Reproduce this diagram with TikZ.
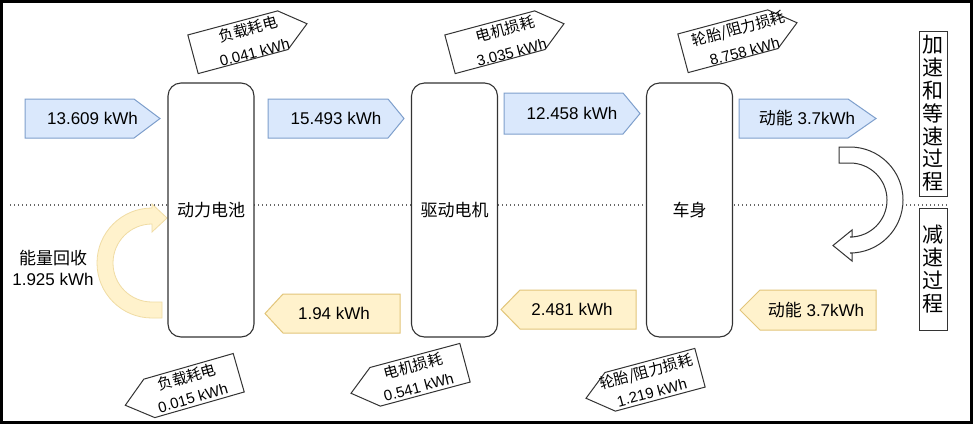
\documentclass[tikz,border=0pt]{standalone}
\usepackage{fontspec}
\setmainfont{Liberation Sans}
\newfontfamily\cjk{Noto Sans CJK SC}
\definecolor{bfill}{HTML}{DAE8FC}
\definecolor{bdraw}{HTML}{7E9FCC}
\definecolor{yfill}{HTML}{FFF2CC}
\definecolor{ydraw}{HTML}{E2C57A}
\definecolor{cdraw}{HTML}{F0DCA4}
\definecolor{bkdraw}{HTML}{333333}
\definecolor{dotcol}{HTML}{666666}
\begin{document}
\begin{tikzpicture}[x=1pt,y=-1pt,
  blueA/.style={fill=bfill,draw=bdraw,line width=1pt,line join=miter},
  yelA/.style={fill=yfill,draw=ydraw,line width=1pt},
  blk/.style={draw=bkdraw,fill=white,rounded corners=13pt,line width=1.1pt,
    minimum width=86pt,minimum height=254pt,inner sep=0pt,font=\cjk\fontsize{17}{20}\selectfont},
  tagbox/.style={draw=bkdraw,fill=white,line width=1pt},
  lbl/.style={font=\fontsize{17}{20}\selectfont,inner sep=0pt},
  tagtxt/.style={font=\fontsize{15}{23.5}\selectfont,align=center,inner sep=0pt},
  tagtxtb/.style={font=\fontsize{15}{21.5}\selectfont,align=center,inner sep=0pt},
  vbox/.style={draw=bkdraw,line width=1pt,fill=white,minimum width=28pt,inner sep=0pt,
    align=center,font=\cjk\fontsize{21}{22.8}\selectfont},
]
\useasboundingbox (0,0) rectangle (973,424);
\fill[white] (0,0) rectangle (973,424);

% energy recovery C arrow
\draw[fill=yfill,draw=cdraw,line width=0.8pt] (162,318) -- (152,318)
  arc[start angle=90,end angle=270,radius=55] -- (152,204) -- (167,218) -- (152,232) -- (152,224)
  arc[start angle=270,end angle=90,radius=39] -- (162,302) -- cycle;
\node[font=\fontsize{17}{21}\selectfont,align=center,inner sep=0pt] (rec) at (53,268) {{\cjk 能量回收}\\1.925 kWh};

% separator
\coordinate (sepL) at (10,205);
\coordinate (sepR) at (947,205);
\draw[dotcol,line width=1.3pt,dash pattern=on 1.3pt off 2.7pt] (sepL) -- (sepR);

% blocks
\node[blk] (bat) at (211,210) {动力电池};
\node[blk] (mot) at (454.5,210) {驱动电机};
\node[blk] (car) at (689.5,210) {车身};

% blue arrows (right)
\draw[blueA] (25,99) -- (134,99) -- (160,118.5) -- (134,138) -- (25,138) -- cycle;
\node[lbl] (b1) at (92.5,118.5) {13.609 kWh};
\draw[blueA] (268,99) -- (388,99) -- (404,118.5) -- (388,138) -- (268,138) -- cycle;
\node[lbl] (b2) at (336,118.5) {15.493 kWh};
\draw[blueA] (504,93) -- (623,93) -- (640,113.5) -- (623,134) -- (504,134) -- cycle;
\node[lbl] (b3) at (572,113.5) {12.458 kWh};
\draw[blueA] (739,99) -- (848,99) -- (876,118.5) -- (848,138) -- (739,138) -- cycle;
\node[lbl] (b4) at (807,118.5) {{\cjk 动能} 3.7kWh};

% yellow arrows (left)
\draw[yelA] (265,313.5) -- (283,294) -- (400,294) -- (400,333) -- (283,333) -- cycle;
\node[lbl] (y1) at (334,313.5) {1.94 kWh};
\draw[yelA] (501,309.5) -- (520,290) -- (636,290) -- (636,329) -- (520,329) -- cycle;
\node[lbl] (y2) at (572,309.5) {2.481 kWh};
\draw[yelA] (740,310) -- (760,290) -- (876,290) -- (876,330) -- (760,330) -- cycle;
\node[lbl] (y3) at (816,310) {{\cjk 动能} 3.7kWh};

% white U-turn arrow
\draw[fill=white,draw=bkdraw,line width=1pt] (839,147) -- (850,147)
  arc[start angle=-90,end angle=90,radius=53] -- (852,253) -- (852,261) -- (833,245.5) -- (852,230) -- (852,237) -- (850,237)
  arc[start angle=90,end angle=-90,radius=37] -- (839,163) -- cycle;

% phase boxes
\node[vbox,minimum height=165pt] (acc) at (933,113.5) {加\\速\\和\\等\\速\\过\\程};
\node[vbox,minimum height=122pt] (dec) at (933,269) {减\\速\\过\\程};

% loss tags (top)
\begin{scope}[shift={(250,39)},rotate=15]
\draw[tagbox] (-59,-20) -- (34,-20) -- (59,0) -- (34,20) -- (-59,20) -- cycle;
\node[tagtxt,rotate=15] (t1) at (1,1.5) {{\cjk 负载耗电}\\0.041 kWh};
\end{scope}
\begin{scope}[shift={(507,39)},rotate=15]
\draw[tagbox] (-59,-20) -- (34,-20) -- (59,0) -- (34,20) -- (-59,20) -- cycle;
\node[tagtxt,rotate=15] (t2) at (1,1.5) {{\cjk 电机损耗}\\3.035 kWh};
\end{scope}
\begin{scope}[shift={(740,38)},rotate=15]
\draw[tagbox] (-59,-20) -- (34,-20) -- (59,0) -- (34,20) -- (-59,20) -- cycle;
\node[tagtxt,rotate=15] (t3) at (1,1.5) {{\cjk 轮胎/阻力损耗}\\8.758 kWh};
\end{scope}

% loss tags (bottom)
\begin{scope}[shift={(182,389)},rotate=16]
\draw[tagbox] (-59,0) -- (-34,-20) -- (59,-20) -- (59,20) -- (-34,20) -- cycle;
\node[tagtxtb,rotate=16] (t4) at (8,0) {{\cjk 负载耗电}\\0.015 kWh};
\end{scope}
\begin{scope}[shift={(408,378)},rotate=15]
\draw[tagbox] (-59,0) -- (-34,-20) -- (59,-20) -- (59,20) -- (-34,20) -- cycle;
\node[tagtxtb,rotate=15] (t5) at (8,0) {{\cjk 电机损耗}\\0.541 kWh};
\end{scope}
\begin{scope}[shift={(643,383)},rotate=15]
\draw[tagbox] (-59,0) -- (-34,-20) -- (59,-20) -- (59,20) -- (-34,20) -- cycle;
\node[tagtxtb,rotate=15] (t6) at (6,0) {{\cjk 轮胎/阻力损耗}\\1.219 kWh};
\end{scope}

% frame
\draw[line width=3pt] (1.5,1.5) rectangle (971.5,422.5);
\end{tikzpicture}
\end{document}
